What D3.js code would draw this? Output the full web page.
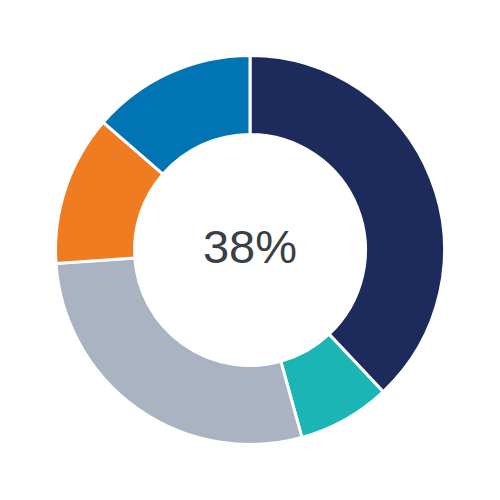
<!DOCTYPE html>
<html>
<head>
<meta charset="utf-8">
<script src="https://cdn.jsdelivr.net/npm/d3@7"></script>
<style>
	html, body { margin: 0; padding: 0; background: #ffffff; }
</style>
</head>
<body>
<div id="chart"></div>
<script>
// Slices go clockwise from 12 o'clock
var categories = ["A", "B", "C", "D", "E"];
var shares = [38, 7.7, 28.2, 12.5, 13.6];
var sliceColors = ["#1c2b5b", "#1cb5b6", "#a9b3c1", "#f07c21", "#0175b3"];
var centerLabel = "38%";

function drawDonut(containerID) {
	var width = 500, height = 500
		, cx = 250, cy = 250
		// white stroke eats ~1.5px of each edge, so pad the radii
		, outerR = 194.5, innerR = 115.5;

	var svg = d3.select("#" + containerID).append("svg")
		.attr("width", width)
		.attr("height", height);

	var g = svg.append("g")
		.attr("transform", "translate(" + cx + "," + cy + ")");

	var color = d3.scaleOrdinal().domain(categories).range(sliceColors);

	// keep the data order, no sorting
	var pie = d3.pie().sort(null).value(function (d) { return d.value; });
	var arc = d3.arc().innerRadius(innerR).outerRadius(outerR);

	var data = categories.map(function (c, i) { return { key: c, value: shares[i] }; });

	g.selectAll(".slice").data(pie(data))
		.enter().append("path")
		.attr("class", "slice")
		.attr("d", arc)
		.attr("fill", function (d) { return color(d.data.key); })
		.attr("stroke", "#ffffff")
		.attr("stroke-width", 3)
		.attr("stroke-linejoin", "miter");

	// big number in the hole
	g.append("text")
		.text(centerLabel)
		.attr("x", 0)
		.attr("y", 13)
		.attr("text-anchor", "middle")
		.attr("font-family", "'Liberation Sans', Arial, sans-serif")
		.attr("font-size", 47)
		.attr("fill", "#3a3f45");
}

drawDonut("chart");
</script>
</body>
</html>
